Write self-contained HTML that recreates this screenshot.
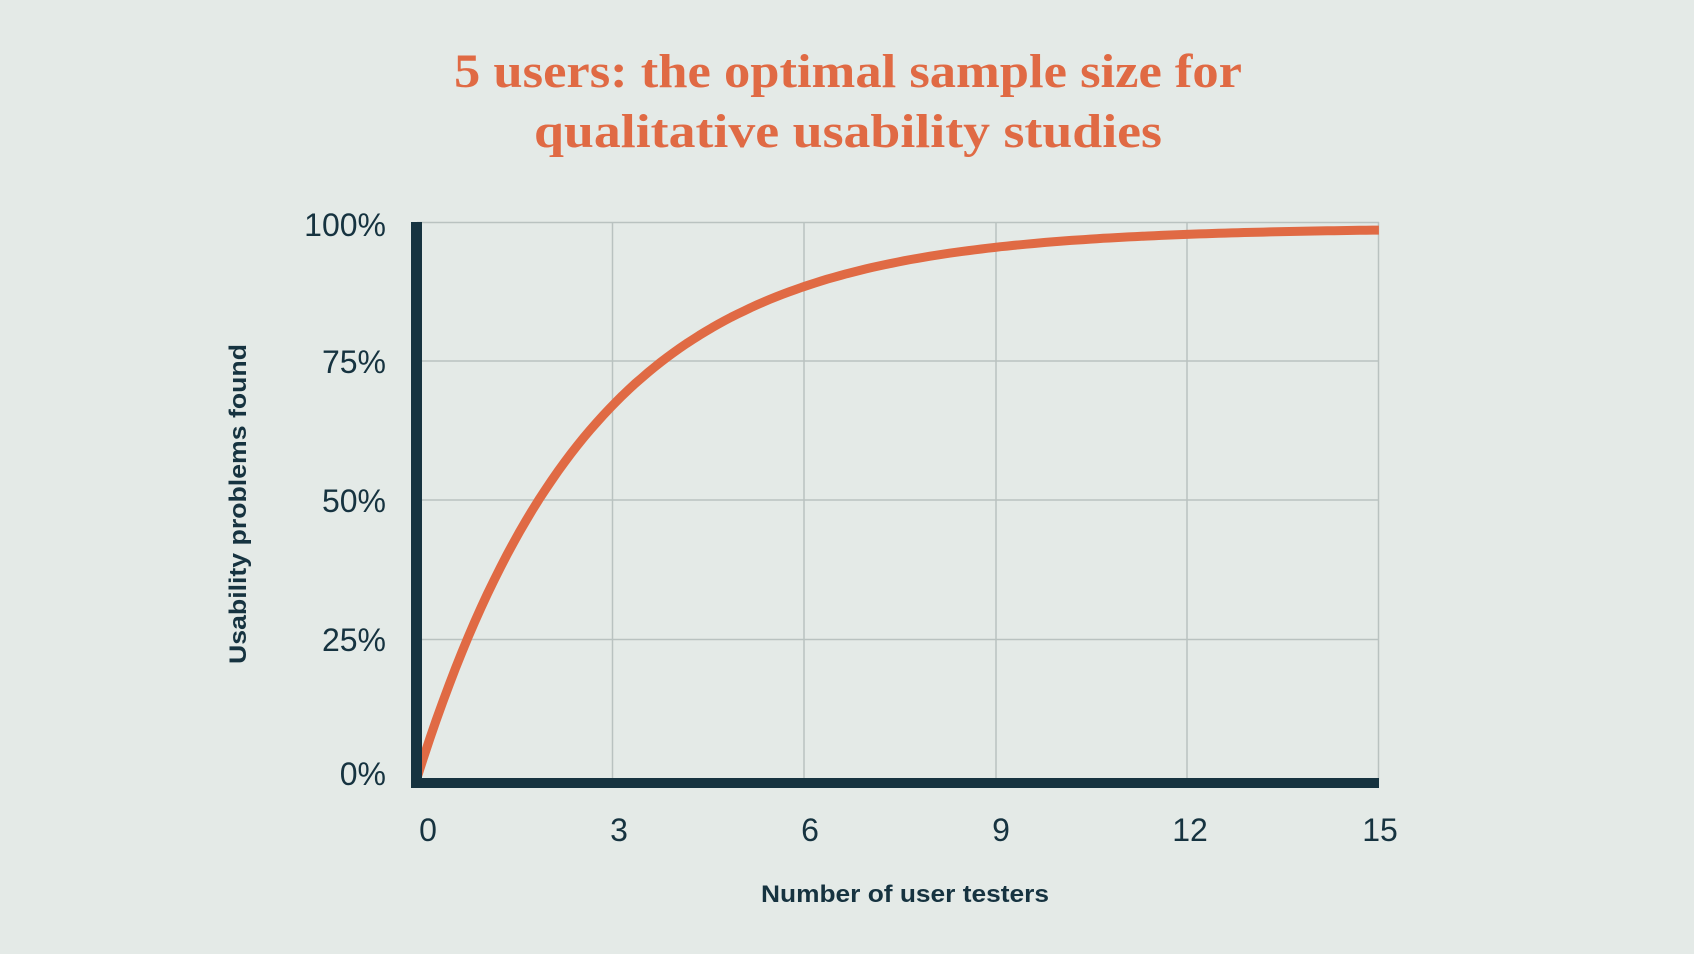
<!DOCTYPE html>
<html><head><meta charset="utf-8"><style>
html,body{margin:0;padding:0;background:#E4EAE7;}
svg{display:block}
</style></head><body>
<svg id="s" width="1694" height="954" viewBox="0 0 1694 954" xmlns="http://www.w3.org/2000/svg">
<rect width="1694" height="954" fill="#E4EAE7"/>
<text x="848" y="87" text-anchor="middle" font-family="Liberation Serif, serif" font-weight="bold" font-size="48" fill="#E06A44" textLength="788" lengthAdjust="spacingAndGlyphs">5 users: the optimal sample size for</text>
<text x="848" y="147" text-anchor="middle" font-family="Liberation Serif, serif" font-weight="bold" font-size="48" fill="#E06A44" textLength="628" lengthAdjust="spacingAndGlyphs">qualitative usability studies</text>
<g stroke="#B9C2C0" stroke-width="1.5" fill="none">
<line x1="417" y1="222.5" x2="1379" y2="222.5"/>
<line x1="417" y1="361" x2="1379" y2="361"/>
<line x1="417" y1="500" x2="1379" y2="500"/>
<line x1="417" y1="639.5" x2="1379" y2="639.5"/>
<line x1="612.5" y1="222" x2="612.5" y2="780"/>
<line x1="804" y1="222" x2="804" y2="780"/>
<line x1="996" y1="222" x2="996" y2="780"/>
<line x1="1187" y1="222" x2="1187" y2="780"/>
<line x1="1378.5" y1="222" x2="1378.5" y2="780"/>
</g>
<path id="curve" d="" stroke="#E06A44" stroke-width="9" fill="none" stroke-linejoin="round"/>
<rect x="411" y="222" width="11" height="566" fill="#163340"/>
<rect x="411" y="778" width="968" height="10" fill="#163340"/>
<g font-family="Liberation Sans, sans-serif" font-size="32" fill="#163340" text-anchor="end">
<text x="386" y="236">100%</text>
<text x="386" y="373">75%</text>
<text x="386" y="512">50%</text>
<text x="386" y="651">25%</text>
<text x="386" y="785">0%</text>
</g>
<g font-family="Liberation Sans, sans-serif" font-size="32" fill="#163340" text-anchor="middle">
<text x="428" y="841">0</text>
<text x="619" y="841">3</text>
<text x="810" y="841">6</text>
<text x="1001" y="841">9</text>
<text x="1190" y="841">12</text>
<text x="1380" y="841">15</text>
</g>
<text x="905" y="902" text-anchor="middle" font-family="Liberation Sans, sans-serif" font-weight="bold" font-size="24" fill="#163340" textLength="288" lengthAdjust="spacingAndGlyphs">Number of user testers</text>
<text transform="translate(246,504) rotate(-90)" text-anchor="middle" font-family="Liberation Sans, sans-serif" font-weight="bold" font-size="24" fill="#163340" textLength="320" lengthAdjust="spacingAndGlyphs">Usability problems found</text>
</svg>
<script>
var d="";for(var i=0;i<=150;i++){var n=i/10;var p=(1-Math.pow(0.69,n))*0.99;var x=417+n*64.13;var y=778-555.6*p;d+=(i?"L":"M")+x.toFixed(1)+" "+y.toFixed(1);}
document.getElementById("curve").setAttribute("d",d);
</script>
</body></html>
